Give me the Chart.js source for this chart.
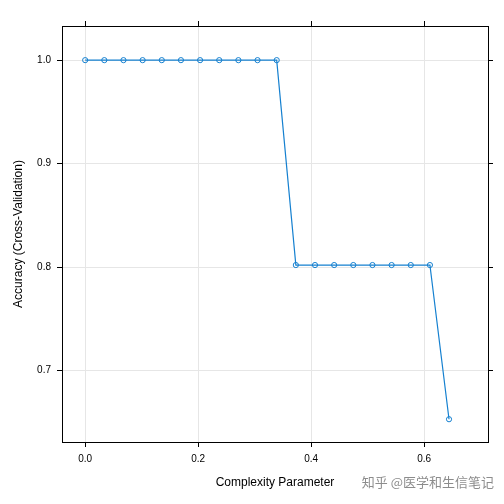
<!DOCTYPE html>
<html><head><meta charset="utf-8">
<script src="https://cdn.jsdelivr.net/npm/chart.js@4.4.0/dist/chart.umd.min.js"></script>
<style>html,body{margin:0;padding:0;background:#fff}#wrap{width:504px;height:504px}</style>
</head><body><div id="wrap"><canvas id="c"></canvas></div>
<script>
const cpValues = [0, 0.0339, 0.0678, 0.1017, 0.1356, 0.1695, 0.2034, 0.2373, 0.2712, 0.3051, 0.339,
  0.3729, 0.4068, 0.4407, 0.4746, 0.5085, 0.5424, 0.5763, 0.6102, 0.644]
const accuracy = [1, 1, 1, 1, 1, 1, 1, 1, 1, 1, 1,
  0.802, 0.802, 0.802, 0.802, 0.802, 0.802, 0.802, 0.802, 0.653]
const xTicks = [0, 0.2, 0.4, 0.6]
const yTicks = [0.7, 0.8, 0.9, 1.0]

const font = { family: 'Arial, "Liberation Sans", sans-serif', size: 10 }
const setTicks = vals => scale => { scale.ticks = vals.map(v => ({ value: v })) }

function axis(pos, min, max, vals, size, main) {
  return {
    type: 'linear', position: pos, min: min, max: max,
    afterBuildTicks: setTicks(vals),
    afterFit: s => { if (pos === 'left' || pos === 'right') s.width = size; else s.height = size },
    border: { color: '#000', width: 1 },
    grid: { drawOnChartArea: main, color: '#e6e6e6', tickColor: '#000', tickLength: 5 },
    ticks: { display: main, color: '#000', font: font, padding: 6, callback: v => v.toFixed(1) }
  }
}

const watermark = {
  id: 'watermark',
  afterDraw(chart) {
    const ctx = chart.ctx
    ctx.save()
    ctx.fillStyle = 'rgba(120,120,120,0.85)'
    ctx.font = '13px "Noto Sans CJK SC", sans-serif'
    ctx.textAlign = 'right'
    ctx.textBaseline = 'middle'
    ctx.fillText('知乎 @医学和生信笔记', 494, 482)
    ctx.restore()
  }
}

new Chart(document.getElementById('c'), {
  type: 'line',
  data: {
    datasets: [{
      data: cpValues.map((x, i) => ({ x: x, y: accuracy[i] })),
      borderColor: '#1580d0', borderWidth: 1.2,
      pointStyle: 'circle', pointRadius: 2.6, pointBorderWidth: 1,
      pointBackgroundColor: 'rgba(0,0,0,0)', pointBorderColor: '#1580d0',
      tension: 0
    }]
  },
  options: {
    responsive: true, maintainAspectRatio: false, animation: false,
    layout: { padding: 0 },
    plugins: { legend: { display: false }, tooltip: { enabled: false } },
    scales: {
      x: Object.assign(axis('bottom', -0.041, 0.713, xTicks, 62, true), {
        title: { display: true, text: 'Complexity Parameter', color: '#000', font: { family: font.family, size: 12 }, padding: { top: 4, bottom: 14 } }
      }),
      x2: axis('top', -0.041, 0.713, xTicks, 26, false),
      y: Object.assign(axis('left', 0.631, 1.033, yTicks, 62, true), {
        title: { display: true, text: 'Accuracy (Cross-Validation)', color: '#000', font: { family: font.family, size: 12 }, padding: { top: 11, bottom: 2 } }
      }),
      y2: axis('right', 0.631, 1.033, yTicks, 16, false)
    }
  },
  plugins: [watermark]
})
</script></body></html>
